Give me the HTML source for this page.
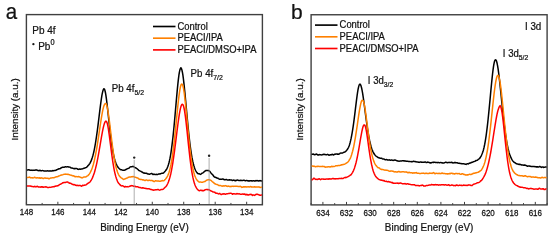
<!DOCTYPE html>
<html><head><meta charset="utf-8"><style>
html,body{margin:0;padding:0;background:#fff;width:550px;height:237px;overflow:hidden}
svg{display:block;will-change:transform}
text{font-family:"Liberation Sans", sans-serif;fill:#111;stroke:#111;stroke-width:0.22px}
</style></head><body>
<svg width="550" height="237" viewBox="0 0 550 237">
<rect x="26.4" y="14.6" width="235.99999999999997" height="190.15" fill="none" stroke="#404040" stroke-width="1.4"/>
<line x1="26.40" y1="204.75" x2="26.40" y2="201.75" stroke="#404040" stroke-width="1"/>
<text transform="translate(26.40,215.35) scale(1,1.2)" text-anchor="middle" font-size="8.0">148</text>
<line x1="57.87" y1="204.75" x2="57.87" y2="201.75" stroke="#404040" stroke-width="1"/>
<text transform="translate(57.87,215.35) scale(1,1.2)" text-anchor="middle" font-size="8.0">146</text>
<line x1="89.33" y1="204.75" x2="89.33" y2="201.75" stroke="#404040" stroke-width="1"/>
<text transform="translate(89.33,215.35) scale(1,1.2)" text-anchor="middle" font-size="8.0">144</text>
<line x1="120.80" y1="204.75" x2="120.80" y2="201.75" stroke="#404040" stroke-width="1"/>
<text transform="translate(120.80,215.35) scale(1,1.2)" text-anchor="middle" font-size="8.0">142</text>
<line x1="152.27" y1="204.75" x2="152.27" y2="201.75" stroke="#404040" stroke-width="1"/>
<text transform="translate(152.27,215.35) scale(1,1.2)" text-anchor="middle" font-size="8.0">140</text>
<line x1="183.73" y1="204.75" x2="183.73" y2="201.75" stroke="#404040" stroke-width="1"/>
<text transform="translate(183.73,215.35) scale(1,1.2)" text-anchor="middle" font-size="8.0">138</text>
<line x1="215.20" y1="204.75" x2="215.20" y2="201.75" stroke="#404040" stroke-width="1"/>
<text transform="translate(215.20,215.35) scale(1,1.2)" text-anchor="middle" font-size="8.0">136</text>
<line x1="246.67" y1="204.75" x2="246.67" y2="201.75" stroke="#404040" stroke-width="1"/>
<text transform="translate(246.67,215.35) scale(1,1.2)" text-anchor="middle" font-size="8.0">134</text>
<line x1="42.13" y1="204.75" x2="42.13" y2="202.95" stroke="#404040" stroke-width="1"/>
<line x1="73.60" y1="204.75" x2="73.60" y2="202.95" stroke="#404040" stroke-width="1"/>
<line x1="105.07" y1="204.75" x2="105.07" y2="202.95" stroke="#404040" stroke-width="1"/>
<line x1="136.53" y1="204.75" x2="136.53" y2="202.95" stroke="#404040" stroke-width="1"/>
<line x1="168.00" y1="204.75" x2="168.00" y2="202.95" stroke="#404040" stroke-width="1"/>
<line x1="199.47" y1="204.75" x2="199.47" y2="202.95" stroke="#404040" stroke-width="1"/>
<line x1="230.93" y1="204.75" x2="230.93" y2="202.95" stroke="#404040" stroke-width="1"/>
<line x1="262.40" y1="204.75" x2="262.40" y2="202.95" stroke="#404040" stroke-width="1"/>
<rect x="311.1" y="14.75" width="236.0" height="190.15" fill="none" stroke="#404040" stroke-width="1.4"/>
<line x1="322.90" y1="204.9" x2="322.90" y2="201.9" stroke="#404040" stroke-width="1"/>
<text transform="translate(322.90,215.5) scale(1,1.2)" text-anchor="middle" font-size="8.0">634</text>
<line x1="346.50" y1="204.9" x2="346.50" y2="201.9" stroke="#404040" stroke-width="1"/>
<text transform="translate(346.50,215.5) scale(1,1.2)" text-anchor="middle" font-size="8.0">632</text>
<line x1="370.10" y1="204.9" x2="370.10" y2="201.9" stroke="#404040" stroke-width="1"/>
<text transform="translate(370.10,215.5) scale(1,1.2)" text-anchor="middle" font-size="8.0">630</text>
<line x1="393.70" y1="204.9" x2="393.70" y2="201.9" stroke="#404040" stroke-width="1"/>
<text transform="translate(393.70,215.5) scale(1,1.2)" text-anchor="middle" font-size="8.0">628</text>
<line x1="417.30" y1="204.9" x2="417.30" y2="201.9" stroke="#404040" stroke-width="1"/>
<text transform="translate(417.30,215.5) scale(1,1.2)" text-anchor="middle" font-size="8.0">626</text>
<line x1="440.90" y1="204.9" x2="440.90" y2="201.9" stroke="#404040" stroke-width="1"/>
<text transform="translate(440.90,215.5) scale(1,1.2)" text-anchor="middle" font-size="8.0">624</text>
<line x1="464.50" y1="204.9" x2="464.50" y2="201.9" stroke="#404040" stroke-width="1"/>
<text transform="translate(464.50,215.5) scale(1,1.2)" text-anchor="middle" font-size="8.0">622</text>
<line x1="488.10" y1="204.9" x2="488.10" y2="201.9" stroke="#404040" stroke-width="1"/>
<text transform="translate(488.10,215.5) scale(1,1.2)" text-anchor="middle" font-size="8.0">620</text>
<line x1="511.70" y1="204.9" x2="511.70" y2="201.9" stroke="#404040" stroke-width="1"/>
<text transform="translate(511.70,215.5) scale(1,1.2)" text-anchor="middle" font-size="8.0">618</text>
<line x1="535.30" y1="204.9" x2="535.30" y2="201.9" stroke="#404040" stroke-width="1"/>
<text transform="translate(535.30,215.5) scale(1,1.2)" text-anchor="middle" font-size="8.0">616</text>
<line x1="311.10" y1="204.9" x2="311.10" y2="203.1" stroke="#404040" stroke-width="1"/>
<line x1="334.70" y1="204.9" x2="334.70" y2="203.1" stroke="#404040" stroke-width="1"/>
<line x1="358.30" y1="204.9" x2="358.30" y2="203.1" stroke="#404040" stroke-width="1"/>
<line x1="381.90" y1="204.9" x2="381.90" y2="203.1" stroke="#404040" stroke-width="1"/>
<line x1="405.50" y1="204.9" x2="405.50" y2="203.1" stroke="#404040" stroke-width="1"/>
<line x1="429.10" y1="204.9" x2="429.10" y2="203.1" stroke="#404040" stroke-width="1"/>
<line x1="452.70" y1="204.9" x2="452.70" y2="203.1" stroke="#404040" stroke-width="1"/>
<line x1="476.30" y1="204.9" x2="476.30" y2="203.1" stroke="#404040" stroke-width="1"/>
<line x1="499.90" y1="204.9" x2="499.90" y2="203.1" stroke="#404040" stroke-width="1"/>
<line x1="523.50" y1="204.9" x2="523.50" y2="203.1" stroke="#404040" stroke-width="1"/>
<line x1="547.10" y1="204.9" x2="547.10" y2="203.1" stroke="#404040" stroke-width="1"/>
<path d="M26.90,170.09 L27.40,170.07 L27.90,169.95 L28.40,169.86 L28.90,169.77 L29.40,169.93 L29.90,170.21 L30.40,170.30 L30.90,170.22 L31.40,170.12 L31.90,170.26 L32.40,170.39 L32.90,170.22 L33.40,170.20 L33.90,170.31 L34.40,170.29 L34.90,170.27 L35.40,169.96 L35.90,170.01 L36.40,169.87 L36.90,170.14 L37.40,170.18 L37.90,170.51 L38.40,170.61 L38.90,170.79 L39.40,170.43 L39.90,170.36 L40.40,170.40 L40.90,170.80 L41.40,170.68 L41.90,170.63 L42.40,170.49 L42.90,170.61 L43.40,170.85 L43.90,170.88 L44.40,171.01 L44.90,170.99 L45.40,171.03 L45.90,171.03 L46.40,170.92 L46.90,171.01 L47.40,170.85 L47.90,170.84 L48.40,171.02 L48.90,170.96 L49.40,171.06 L49.90,170.86 L50.40,170.96 L50.90,171.08 L51.40,171.12 L51.90,171.00 L52.40,170.68 L52.90,170.59 L53.40,170.65 L53.90,170.64 L54.40,170.46 L54.90,170.45 L55.40,170.42 L55.90,170.21 L56.40,170.00 L56.90,169.63 L57.40,169.55 L57.90,169.21 L58.40,169.01 L58.90,168.77 L59.40,168.79 L59.90,168.76 L60.40,168.43 L60.90,168.04 L61.40,167.78 L61.90,167.50 L62.40,167.35 L62.90,167.08 L63.40,167.30 L63.90,167.30 L64.40,167.16 L64.90,166.87 L65.40,166.68 L65.90,166.89 L66.40,166.88 L66.90,166.87 L67.40,166.75 L67.90,166.85 L68.40,166.95 L68.90,166.87 L69.40,167.01 L69.90,167.12 L70.40,167.53 L70.90,167.76 L71.40,167.96 L71.90,168.06 L72.40,168.10 L72.90,168.37 L73.40,168.44 L73.90,168.69 L74.40,168.53 L74.90,168.69 L75.40,168.50 L75.90,168.48 L76.40,168.46 L76.90,168.62 L77.40,168.96 L77.90,169.35 L78.40,169.39 L78.90,169.28 L79.40,168.98 L79.90,169.16 L80.40,169.19 L80.90,169.09 L81.40,169.05 L81.90,169.06 L82.40,168.86 L82.90,168.66 L83.40,168.47 L83.90,168.32 L84.40,168.18 L84.90,167.89 L85.40,167.87 L85.90,167.60 L86.40,167.38 L86.90,166.89 L87.40,166.46 L87.90,165.85 L88.40,165.29 L88.90,164.73 L89.40,164.03 L89.90,163.34 L90.40,162.32 L90.90,161.40 L91.40,160.13 L91.90,158.86 L92.40,157.29 L92.90,155.53 L93.40,153.60 L93.90,151.47 L94.40,149.12 L94.90,146.46 L95.40,143.57 L95.90,140.47 L96.40,137.20 L96.90,133.67 L97.40,129.98 L97.90,126.08 L98.40,122.08 L98.90,117.98 L99.40,113.90 L99.90,109.82 L100.40,105.89 L100.90,102.09 L101.40,98.59 L101.90,95.47 L102.40,92.85 L102.90,90.85 L103.40,89.47 L103.90,88.75 L104.40,89.03 L104.90,90.31 L105.40,92.46 L105.90,95.32 L106.40,98.80 L106.90,102.75 L107.40,107.11 L107.90,111.66 L108.40,116.31 L108.90,120.94 L109.40,125.52 L109.90,129.97 L110.40,134.22 L110.90,138.26 L111.40,141.98 L111.90,145.45 L112.40,148.60 L112.90,151.49 L113.40,154.04 L113.90,156.33 L114.40,158.42 L114.90,160.24 L115.40,161.88 L115.90,163.20 L116.40,164.39 L116.90,165.37 L117.40,166.29 L117.90,167.04 L118.40,167.71 L118.90,168.20 L119.40,168.77 L119.90,169.23 L120.40,169.59 L120.90,169.68 L121.40,169.64 L121.90,169.83 L122.40,170.12 L122.90,170.35 L123.40,170.28 L123.90,170.18 L124.40,170.19 L124.90,170.09 L125.40,169.76 L125.90,169.62 L126.40,169.15 L126.90,169.02 L127.40,168.64 L127.90,168.56 L128.40,168.37 L128.90,168.19 L129.40,167.74 L129.90,167.14 L130.40,166.85 L130.90,166.69 L131.40,166.77 L131.90,166.70 L132.40,166.59 L132.90,166.37 L133.40,166.44 L133.90,166.82 L134.40,167.23 L134.90,167.48 L135.40,167.70 L135.90,167.92 L136.40,168.27 L136.90,168.64 L137.40,169.02 L137.90,169.46 L138.40,169.91 L138.90,170.45 L139.40,170.67 L139.90,170.93 L140.40,171.10 L140.90,171.37 L141.40,171.70 L141.90,171.94 L142.40,172.28 L142.90,172.47 L143.40,172.96 L143.90,172.92 L144.40,173.13 L144.90,173.02 L145.40,173.32 L145.90,173.17 L146.40,173.25 L146.90,173.46 L147.40,173.75 L147.90,173.93 L148.40,173.90 L148.90,174.15 L149.40,174.23 L149.90,174.06 L150.40,173.87 L150.90,173.65 L151.40,173.53 L151.90,173.57 L152.40,174.05 L152.90,174.54 L153.40,174.46 L153.90,174.12 L154.40,174.27 L154.90,174.45 L155.40,174.57 L155.90,174.38 L156.40,174.33 L156.90,174.40 L157.40,174.44 L157.90,174.41 L158.40,174.10 L158.90,174.03 L159.40,173.84 L159.90,174.03 L160.40,173.71 L160.90,173.66 L161.40,173.40 L161.90,173.24 L162.40,173.25 L162.90,173.18 L163.40,172.98 L163.90,172.56 L164.40,172.08 L164.90,171.45 L165.40,170.88 L165.90,170.21 L166.40,169.59 L166.90,168.60 L167.40,167.50 L167.90,166.20 L168.40,164.78 L168.90,163.04 L169.40,161.01 L169.90,158.69 L170.40,156.02 L170.90,153.02 L171.40,149.62 L171.90,145.96 L172.40,141.92 L172.90,137.54 L173.40,132.77 L173.90,127.70 L174.40,122.36 L174.90,116.81 L175.40,111.13 L175.90,105.37 L176.40,99.66 L176.90,94.06 L177.40,88.69 L177.90,83.66 L178.40,79.12 L178.90,75.24 L179.40,72.10 L179.90,69.82 L180.40,68.39 L180.90,67.80 L181.40,68.47 L181.90,69.96 L182.40,72.23 L182.90,75.22 L183.40,78.86 L183.90,83.09 L184.40,87.75 L184.90,92.78 L185.40,98.04 L185.90,103.49 L186.40,108.96 L186.90,114.44 L187.40,119.82 L187.90,125.05 L188.40,130.05 L188.90,134.80 L189.40,139.30 L189.90,143.49 L190.40,147.37 L190.90,150.97 L191.40,154.22 L191.90,157.13 L192.40,159.67 L192.90,162.01 L193.40,164.02 L193.90,165.81 L194.40,167.40 L194.90,168.75 L195.40,170.01 L195.90,171.01 L196.40,171.91 L196.90,172.58 L197.40,173.18 L197.90,173.60 L198.40,173.83 L198.90,173.70 L199.40,173.81 L199.90,174.12 L200.40,174.40 L200.90,174.14 L201.40,173.69 L201.90,173.30 L202.40,173.10 L202.90,172.78 L203.40,172.43 L203.90,172.01 L204.40,171.58 L204.90,171.16 L205.40,170.80 L205.90,170.53 L206.40,170.39 L206.90,170.51 L207.40,170.60 L207.90,170.60 L208.40,170.44 L208.90,170.75 L209.40,171.02 L209.90,171.54 L210.40,172.13 L210.90,172.91 L211.40,173.60 L211.90,174.03 L212.40,174.54 L212.90,175.06 L213.40,175.75 L213.90,176.44 L214.40,176.95 L214.90,177.21 L215.40,177.23 L215.90,177.47 L216.40,177.77 L216.90,177.97 L217.40,178.16 L217.90,178.20 L218.40,178.61 L218.90,178.85 L219.40,179.24 L219.90,179.15 L220.40,179.19 L220.90,179.12 L221.40,179.22 L221.90,179.19 L222.40,179.11 L222.90,179.04 L223.40,179.25 L223.90,179.45 L224.40,179.73 L224.90,179.81 L225.40,179.64 L225.90,179.55 L226.40,179.47 L226.90,179.80 L227.40,179.89 L227.90,180.05 L228.40,180.05 L228.90,179.96 L229.40,179.71 L229.90,179.82 L230.40,180.09 L230.90,179.97 L231.40,180.07 L231.90,180.12 L232.40,180.60 L232.90,180.38 L233.40,180.27 L233.90,179.94 L234.40,180.38 L234.90,180.42 L235.40,180.84 L235.90,180.40 L236.40,180.47 L236.90,180.03 L237.40,180.09 L237.90,180.24 L238.40,180.32 L238.90,180.55 L239.40,180.49 L239.90,180.54 L240.40,180.34 L240.90,180.25 L241.40,180.42 L241.90,180.43 L242.40,180.41 L242.90,180.39 L243.40,180.34 L243.90,180.30 L244.40,180.36 L244.90,180.65 L245.40,180.64 L245.90,180.66 L246.40,180.46 L246.90,180.55 L247.40,180.69 L247.90,180.72 L248.40,181.10 L248.90,180.87 L249.40,181.01 L249.90,180.76 L250.40,180.77 L250.90,180.80 L251.40,180.82 L251.90,181.02 L252.40,180.93 L252.90,180.80 L253.40,180.70 L253.90,180.72 L254.40,181.03 L254.90,180.92 L255.40,180.92 L255.90,180.55 L256.40,180.79 L256.90,180.65 L257.40,180.66 L257.90,180.57 L258.40,180.91 L258.90,180.97 L259.40,180.84 L259.90,180.59 L260.40,180.67 L260.90,180.91 L261.40,180.92 L261.90,181.10" fill="none" stroke="#000000" stroke-width="1.5" stroke-linejoin="round"/>
<path d="M26.90,177.50 L27.40,177.40 L27.90,177.58 L28.40,177.37 L28.90,177.31 L29.40,176.99 L29.90,177.42 L30.40,177.57 L30.90,177.88 L31.40,177.63 L31.90,177.71 L32.40,177.71 L32.90,178.01 L33.40,177.86 L33.90,177.66 L34.40,177.28 L34.90,177.28 L35.40,177.64 L35.90,177.94 L36.40,178.03 L36.90,177.78 L37.40,177.65 L37.90,178.02 L38.40,177.85 L38.90,178.01 L39.40,177.69 L39.90,178.27 L40.40,178.06 L40.90,178.20 L41.40,177.85 L41.90,177.88 L42.40,178.14 L42.90,178.50 L43.40,178.59 L43.90,178.28 L44.40,177.89 L44.90,177.89 L45.40,178.02 L45.90,178.29 L46.40,178.34 L46.90,178.17 L47.40,178.17 L47.90,178.17 L48.40,178.50 L48.90,178.75 L49.40,178.70 L49.90,178.38 L50.40,178.07 L50.90,177.95 L51.40,177.90 L51.90,177.83 L52.40,177.70 L52.90,177.79 L53.40,177.69 L53.90,177.75 L54.40,177.55 L54.90,177.36 L55.40,177.09 L55.90,176.96 L56.40,176.84 L56.90,176.83 L57.40,176.70 L57.90,176.44 L58.40,176.24 L58.90,175.92 L59.40,175.81 L59.90,175.58 L60.40,175.31 L60.90,175.20 L61.40,175.06 L61.90,175.10 L62.40,174.88 L62.90,174.67 L63.40,174.43 L63.90,174.33 L64.40,174.21 L64.90,174.27 L65.40,174.09 L65.90,174.17 L66.40,174.18 L66.90,174.35 L67.40,174.30 L67.90,174.42 L68.40,174.32 L68.90,174.54 L69.40,174.62 L69.90,174.98 L70.40,175.11 L70.90,175.15 L71.40,175.24 L71.90,175.42 L72.40,175.70 L72.90,175.90 L73.40,175.80 L73.90,175.95 L74.40,176.20 L74.90,176.64 L75.40,176.73 L75.90,176.52 L76.40,176.62 L76.90,176.67 L77.40,176.64 L77.90,176.65 L78.40,176.55 L78.90,176.78 L79.40,176.71 L79.90,177.14 L80.40,177.32 L80.90,177.49 L81.40,177.60 L81.90,177.91 L82.40,177.87 L82.90,177.55 L83.40,177.11 L83.90,176.99 L84.40,176.99 L84.90,177.08 L85.40,177.02 L85.90,176.88 L86.40,176.52 L86.90,176.21 L87.40,175.85 L87.90,175.55 L88.40,175.16 L88.90,174.57 L89.40,173.86 L89.90,173.07 L90.40,172.14 L90.90,171.11 L91.40,170.03 L91.90,168.84 L92.40,167.53 L92.90,165.89 L93.40,164.17 L93.90,162.25 L94.40,160.21 L94.90,157.92 L95.40,155.50 L95.90,152.94 L96.40,150.22 L96.90,147.28 L97.40,144.19 L97.90,141.01 L98.40,137.67 L98.90,134.31 L99.40,130.91 L99.90,127.58 L100.40,124.26 L100.90,121.00 L101.40,117.86 L101.90,114.88 L102.40,112.15 L102.90,109.69 L103.40,107.58 L103.90,105.86 L104.40,104.68 L104.90,103.88 L105.40,103.54 L105.90,103.49 L106.40,104.42 L106.90,105.94 L107.40,108.14 L107.90,110.80 L108.40,113.98 L108.90,117.52 L109.40,121.40 L109.90,125.46 L110.40,129.60 L110.90,133.76 L111.40,137.90 L111.90,141.97 L112.40,145.87 L112.90,149.60 L113.40,153.11 L113.90,156.41 L114.40,159.37 L114.90,162.11 L115.40,164.55 L115.90,166.79 L116.40,168.68 L116.90,170.37 L117.40,171.81 L117.90,173.10 L118.40,174.26 L118.90,175.20 L119.40,175.97 L119.90,176.59 L120.40,177.08 L120.90,177.66 L121.40,177.95 L121.90,178.22 L122.40,178.45 L122.90,178.95 L123.40,179.39 L123.90,179.35 L124.40,179.01 L124.90,178.87 L125.40,178.74 L125.90,178.47 L126.40,178.16 L126.90,178.07 L127.40,177.92 L127.90,177.55 L128.40,177.16 L128.90,177.15 L129.40,177.08 L129.90,177.07 L130.40,176.89 L130.90,176.95 L131.40,176.85 L131.90,176.85 L132.40,176.62 L132.90,176.64 L133.40,176.50 L133.90,176.86 L134.40,177.02 L134.90,177.20 L135.40,177.20 L135.90,177.36 L136.40,177.72 L136.90,177.79 L137.40,177.90 L137.90,177.98 L138.40,178.62 L138.90,179.03 L139.40,179.24 L139.90,179.19 L140.40,179.47 L140.90,179.59 L141.40,179.58 L141.90,179.58 L142.40,179.77 L142.90,179.99 L143.40,179.84 L143.90,180.11 L144.40,180.31 L144.90,180.52 L145.40,180.42 L145.90,179.99 L146.40,180.06 L146.90,180.00 L147.40,180.39 L147.90,180.46 L148.40,180.50 L148.90,180.28 L149.40,180.30 L149.90,180.31 L150.40,180.55 L150.90,180.48 L151.40,180.60 L151.90,180.40 L152.40,180.70 L152.90,180.84 L153.40,181.36 L153.90,181.52 L154.40,181.54 L154.90,181.20 L155.40,180.85 L155.90,180.72 L156.40,180.93 L156.90,181.10 L157.40,181.00 L157.90,181.13 L158.40,180.89 L158.90,181.23 L159.40,181.15 L159.90,181.29 L160.40,181.19 L160.90,181.07 L161.40,180.95 L161.90,180.66 L162.40,180.59 L162.90,180.71 L163.40,180.87 L163.90,180.72 L164.40,180.28 L164.90,179.67 L165.40,179.23 L165.90,178.64 L166.40,178.05 L166.90,177.20 L167.40,176.34 L167.90,175.30 L168.40,174.13 L168.90,172.70 L169.40,171.12 L169.90,169.37 L170.40,167.31 L170.90,164.95 L171.40,162.26 L171.90,159.32 L172.40,156.04 L172.90,152.45 L173.40,148.57 L173.90,144.42 L174.40,139.98 L174.90,135.32 L175.40,130.43 L175.90,125.43 L176.40,120.32 L176.90,115.26 L177.40,110.22 L177.90,105.38 L178.40,100.76 L178.90,96.58 L179.40,92.84 L179.90,89.68 L180.40,87.07 L180.90,85.26 L181.40,84.17 L181.90,84.07 L182.40,84.49 L182.90,85.83 L183.40,87.97 L183.90,90.88 L184.40,94.43 L184.90,98.56 L185.40,103.12 L185.90,108.02 L186.40,113.16 L186.90,118.39 L187.40,123.66 L187.90,128.88 L188.40,134.01 L188.90,138.98 L189.40,143.74 L189.90,148.22 L190.40,152.39 L190.90,156.26 L191.40,159.80 L191.90,163.06 L192.40,165.93 L192.90,168.51 L193.40,170.77 L193.90,172.80 L194.40,174.52 L194.90,176.03 L195.40,177.27 L195.90,178.26 L196.40,179.14 L196.90,179.85 L197.40,180.58 L197.90,181.00 L198.40,181.57 L198.90,181.89 L199.40,182.15 L199.90,181.94 L200.40,181.96 L200.90,182.13 L201.40,182.28 L201.90,182.30 L202.40,182.14 L202.90,182.15 L203.40,181.87 L203.90,181.71 L204.40,181.51 L204.90,181.56 L205.40,181.20 L205.90,180.79 L206.40,180.20 L206.90,180.18 L207.40,179.93 L207.90,179.86 L208.40,179.69 L208.90,179.78 L209.40,179.85 L209.90,179.99 L210.40,180.14 L210.90,180.40 L211.40,180.76 L211.90,181.32 L212.40,181.82 L212.90,182.09 L213.40,182.42 L213.90,182.88 L214.40,183.43 L214.90,183.79 L215.40,183.93 L215.90,184.20 L216.40,184.38 L216.90,184.55 L217.40,184.56 L217.90,184.93 L218.40,185.23 L218.90,185.59 L219.40,185.46 L219.90,185.64 L220.40,185.50 L220.90,185.61 L221.40,185.89 L221.90,186.13 L222.40,186.14 L222.90,185.83 L223.40,185.81 L223.90,186.09 L224.40,186.07 L224.90,185.80 L225.40,185.62 L225.90,185.71 L226.40,186.00 L226.90,186.25 L227.40,186.31 L227.90,186.43 L228.40,186.09 L228.90,186.19 L229.40,186.39 L229.90,186.68 L230.40,186.60 L230.90,186.33 L231.40,186.50 L231.90,186.34 L232.40,186.31 L232.90,186.14 L233.40,186.40 L233.90,186.37 L234.40,186.36 L234.90,186.24 L235.40,186.34 L235.90,186.29 L236.40,186.19 L236.90,186.19 L237.40,186.36 L237.90,186.41 L238.40,186.40 L238.90,186.39 L239.40,186.40 L239.90,186.48 L240.40,186.25 L240.90,186.59 L241.40,186.92 L241.90,187.38 L242.40,187.20 L242.90,186.99 L243.40,186.74 L243.90,186.80 L244.40,186.93 L244.90,186.74 L245.40,186.89 L245.90,186.68 L246.40,187.09 L246.90,186.98 L247.40,186.90 L247.90,186.75 L248.40,186.84 L248.90,186.95 L249.40,187.00 L249.90,186.82 L250.40,186.52 L250.90,186.59 L251.40,186.78 L251.90,187.13 L252.40,187.02 L252.90,187.08 L253.40,187.01 L253.90,186.91 L254.40,186.75 L254.90,187.01 L255.40,186.92 L255.90,187.14 L256.40,186.89 L256.90,186.95 L257.40,186.98 L257.90,187.07 L258.40,187.06 L258.90,186.84 L259.40,187.01 L259.90,187.39 L260.40,187.39 L260.90,187.33 L261.40,187.28 L261.90,187.36" fill="none" stroke="#FF8000" stroke-width="1.5" stroke-linejoin="round"/>
<path d="M26.90,185.98 L27.40,185.99 L27.90,186.02 L28.40,185.91 L28.90,185.94 L29.40,186.04 L29.90,186.05 L30.40,186.00 L30.90,186.17 L31.40,186.31 L31.90,186.52 L32.40,186.55 L32.90,186.63 L33.40,186.85 L33.90,186.59 L34.40,186.66 L34.90,186.33 L35.40,186.74 L35.90,186.90 L36.40,186.72 L36.90,186.37 L37.40,186.28 L37.90,186.70 L38.40,186.98 L38.90,186.93 L39.40,186.94 L39.90,186.98 L40.40,187.03 L40.90,187.15 L41.40,186.79 L41.90,186.93 L42.40,186.68 L42.90,187.17 L43.40,187.08 L43.90,187.13 L44.40,187.07 L44.90,187.00 L45.40,187.01 L45.90,186.74 L46.40,186.88 L46.90,187.10 L47.40,187.49 L47.90,187.47 L48.40,187.54 L48.90,187.38 L49.40,187.37 L49.90,187.27 L50.40,187.38 L50.90,187.30 L51.40,187.14 L51.90,186.91 L52.40,186.90 L52.90,186.73 L53.40,186.79 L53.90,186.62 L54.40,186.66 L54.90,186.30 L55.40,186.24 L55.90,186.07 L56.40,185.94 L56.90,185.94 L57.40,185.73 L57.90,185.76 L58.40,185.42 L58.90,185.09 L59.40,184.64 L59.90,184.36 L60.40,184.20 L60.90,184.02 L61.40,183.72 L61.90,183.31 L62.40,183.08 L62.90,182.68 L63.40,182.75 L63.90,182.54 L64.40,182.60 L64.90,182.42 L65.40,182.48 L65.90,182.34 L66.40,182.10 L66.90,181.96 L67.40,181.96 L67.90,182.17 L68.40,182.61 L68.90,182.86 L69.40,183.19 L69.90,183.01 L70.40,183.34 L70.90,183.41 L71.40,183.74 L71.90,183.95 L72.40,184.36 L72.90,184.57 L73.40,184.70 L73.90,184.56 L74.40,184.76 L74.90,184.86 L75.40,185.21 L75.90,185.26 L76.40,185.61 L76.90,185.36 L77.40,185.41 L77.90,185.37 L78.40,185.64 L78.90,185.62 L79.40,185.49 L79.90,185.36 L80.40,185.50 L80.90,185.90 L81.40,186.24 L81.90,186.03 L82.40,185.52 L82.90,185.26 L83.40,185.46 L83.90,185.37 L84.40,185.22 L84.90,185.08 L85.40,185.10 L85.90,184.95 L86.40,184.52 L86.90,184.04 L87.40,183.74 L87.90,183.33 L88.40,183.16 L88.90,182.75 L89.40,182.47 L89.90,181.99 L90.40,181.47 L90.90,180.64 L91.40,179.78 L91.90,178.87 L92.40,177.87 L92.90,176.65 L93.40,175.35 L93.90,173.93 L94.40,172.49 L94.90,170.73 L95.40,168.92 L95.90,166.89 L96.40,164.83 L96.90,162.58 L97.40,160.17 L97.90,157.61 L98.40,154.95 L98.90,152.11 L99.40,149.24 L99.90,146.27 L100.40,143.35 L100.90,140.38 L101.40,137.45 L101.90,134.58 L102.40,131.88 L102.90,129.37 L103.40,127.07 L103.90,125.11 L104.40,123.53 L104.90,122.27 L105.40,121.38 L105.90,121.12 L106.40,121.38 L106.90,122.26 L107.40,123.87 L107.90,126.23 L108.40,129.17 L108.90,132.53 L109.40,136.22 L109.90,140.06 L110.40,144.00 L110.90,147.89 L111.40,151.75 L111.90,155.45 L112.40,159.00 L112.90,162.33 L113.40,165.43 L113.90,168.26 L114.40,170.80 L114.90,173.08 L115.40,175.11 L115.90,176.89 L116.40,178.48 L116.90,179.81 L117.40,181.07 L117.90,182.05 L118.40,182.93 L118.90,183.55 L119.40,184.11 L119.90,184.69 L120.40,185.10 L120.90,185.61 L121.40,185.82 L121.90,185.90 L122.40,185.87 L122.90,185.85 L123.40,186.21 L123.90,186.50 L124.40,186.92 L124.90,186.75 L125.40,186.48 L125.90,186.60 L126.40,186.76 L126.90,186.78 L127.40,186.61 L127.90,186.79 L128.40,186.87 L128.90,186.67 L129.40,186.33 L129.90,186.17 L130.40,186.02 L130.90,185.78 L131.40,185.67 L131.90,185.62 L132.40,185.79 L132.90,185.84 L133.40,186.34 L133.90,186.31 L134.40,186.38 L134.90,186.20 L135.40,186.48 L135.90,186.76 L136.40,186.86 L136.90,186.86 L137.40,186.69 L137.90,186.78 L138.40,187.07 L138.90,187.40 L139.40,187.51 L139.90,187.50 L140.40,187.60 L140.90,187.88 L141.40,187.94 L141.90,187.98 L142.40,187.76 L142.90,187.75 L143.40,188.07 L143.90,188.09 L144.40,188.27 L144.90,188.16 L145.40,188.47 L145.90,188.48 L146.40,188.52 L146.90,188.65 L147.40,188.82 L147.90,188.66 L148.40,188.72 L148.90,188.70 L149.40,188.95 L149.90,189.07 L150.40,189.34 L150.90,189.60 L151.40,189.58 L151.90,189.68 L152.40,189.79 L152.90,190.07 L153.40,190.19 L153.90,190.07 L154.40,189.94 L154.90,189.91 L155.40,189.78 L155.90,189.87 L156.40,189.70 L156.90,189.86 L157.40,189.58 L157.90,189.53 L158.40,189.58 L158.90,189.94 L159.40,190.17 L159.90,190.11 L160.40,189.90 L160.90,189.58 L161.40,189.54 L161.90,189.40 L162.40,189.39 L162.90,189.32 L163.40,189.08 L163.90,188.57 L164.40,187.99 L164.90,187.47 L165.40,187.01 L165.90,186.59 L166.40,186.01 L166.90,185.19 L167.40,184.23 L167.90,183.22 L168.40,182.05 L168.90,180.62 L169.40,179.00 L169.90,177.26 L170.40,175.34 L170.90,173.21 L171.40,170.83 L171.90,168.22 L172.40,165.37 L172.90,162.29 L173.40,158.95 L173.90,155.45 L174.40,151.80 L174.90,148.01 L175.40,144.11 L175.90,140.10 L176.40,136.05 L176.90,132.02 L177.40,128.06 L177.90,124.23 L178.40,120.54 L178.90,117.10 L179.40,113.95 L179.90,111.08 L180.40,108.64 L180.90,106.68 L181.40,105.29 L181.90,104.43 L182.40,104.25 L182.90,104.59 L183.40,105.62 L183.90,107.48 L184.40,109.99 L184.90,113.10 L185.40,116.70 L185.90,120.77 L186.40,125.15 L186.90,129.77 L187.40,134.51 L187.90,139.30 L188.40,144.06 L188.90,148.75 L189.40,153.26 L189.90,157.56 L190.40,161.59 L190.90,165.42 L191.40,168.87 L191.90,172.06 L192.40,174.84 L192.90,177.39 L193.40,179.61 L193.90,181.60 L194.40,183.35 L194.90,184.80 L195.40,185.98 L195.90,186.94 L196.40,187.81 L196.90,188.60 L197.40,189.33 L197.90,189.81 L198.40,190.24 L198.90,190.56 L199.40,190.76 L199.90,190.61 L200.40,190.32 L200.90,190.08 L201.40,190.53 L201.90,190.53 L202.40,190.77 L202.90,190.53 L203.40,190.68 L203.90,190.50 L204.40,190.27 L204.90,189.91 L205.40,189.68 L205.90,189.61 L206.40,189.50 L206.90,189.46 L207.40,189.68 L207.90,189.59 L208.40,189.74 L208.90,189.61 L209.40,190.02 L209.90,190.30 L210.40,190.63 L210.90,190.95 L211.40,190.98 L211.90,191.37 L212.40,191.49 L212.90,191.96 L213.40,192.11 L213.90,192.11 L214.40,192.15 L214.90,192.33 L215.40,192.95 L215.90,193.22 L216.40,193.35 L216.90,193.10 L217.40,193.35 L217.90,193.64 L218.40,193.91 L218.90,193.78 L219.40,193.40 L219.90,193.57 L220.40,194.02 L220.90,194.40 L221.40,194.50 L221.90,194.24 L222.40,194.02 L222.90,194.06 L223.40,193.81 L223.90,193.94 L224.40,193.78 L224.90,194.10 L225.40,194.19 L225.90,194.20 L226.40,193.95 L226.90,193.69 L227.40,193.63 L227.90,193.63 L228.40,193.62 L228.90,193.41 L229.40,193.43 L229.90,193.34 L230.40,193.32 L230.90,193.14 L231.40,193.44 L231.90,193.69 L232.40,194.23 L232.90,193.98 L233.40,193.82 L233.90,193.66 L234.40,193.86 L234.90,193.92 L235.40,194.04 L235.90,194.04 L236.40,193.94 L236.90,193.52 L237.40,193.65 L237.90,193.88 L238.40,193.91 L238.90,193.75 L239.40,193.82 L239.90,194.13 L240.40,194.21 L240.90,194.26 L241.40,194.30 L241.90,194.17 L242.40,194.07 L242.90,194.08 L243.40,194.28 L243.90,194.05 L244.40,193.97 L244.90,194.19 L245.40,194.74 L245.90,194.49 L246.40,194.78 L246.90,194.40 L247.40,194.88 L247.90,194.70 L248.40,195.02 L248.90,194.92 L249.40,194.58 L249.90,194.54 L250.40,194.43 L250.90,194.24 L251.40,194.58 L251.90,194.80 L252.40,195.45 L252.90,194.91 L253.40,195.03 L253.90,195.01 L254.40,195.39 L254.90,195.18 L255.40,194.79 L255.90,194.55 L256.40,194.24 L256.90,194.18 L257.40,194.24 L257.90,194.43 L258.40,194.67 L258.90,194.65 L259.40,195.10 L259.90,195.32 L260.40,195.35 L260.90,195.26 L261.40,194.97 L261.90,195.00" fill="none" stroke="#FF0000" stroke-width="1.5" stroke-linejoin="round"/>
<path d="M311.60,154.53 L312.10,154.35 L312.60,154.37 L313.10,154.05 L313.60,154.26 L314.10,154.55 L314.60,154.64 L315.10,154.67 L315.60,154.31 L316.10,154.26 L316.60,154.06 L317.10,154.41 L317.60,154.94 L318.10,155.20 L318.60,154.90 L319.10,154.68 L319.60,154.58 L320.10,154.81 L320.60,154.77 L321.10,154.88 L321.60,154.88 L322.10,154.77 L322.60,154.69 L323.10,154.37 L323.60,154.40 L324.10,154.27 L324.60,154.50 L325.10,154.43 L325.60,154.66 L326.10,154.75 L326.60,154.68 L327.10,154.54 L327.60,154.33 L328.10,154.64 L328.60,155.00 L329.10,155.25 L329.60,155.07 L330.10,155.01 L330.60,154.65 L331.10,154.89 L331.60,154.56 L332.10,154.35 L332.60,154.47 L333.10,154.74 L333.60,154.93 L334.10,154.54 L334.60,154.24 L335.10,154.33 L335.60,154.05 L336.10,153.92 L336.60,153.90 L337.10,154.05 L337.60,154.22 L338.10,154.09 L338.60,154.28 L339.10,153.95 L339.60,153.88 L340.10,153.25 L340.60,153.09 L341.10,153.12 L341.60,153.12 L342.10,153.20 L342.60,152.90 L343.10,152.72 L343.60,152.44 L344.10,152.18 L344.60,151.99 L345.10,151.78 L345.60,151.51 L346.10,151.05 L346.60,150.40 L347.10,149.74 L347.60,149.01 L348.10,148.20 L348.60,147.22 L349.10,145.98 L349.60,144.45 L350.10,142.64 L350.60,140.64 L351.10,138.41 L351.60,135.90 L352.10,133.16 L352.60,130.13 L353.10,126.86 L353.60,123.31 L354.10,119.55 L354.60,115.58 L355.10,111.55 L355.60,107.44 L356.10,103.40 L356.60,99.40 L357.10,95.66 L357.60,92.20 L358.10,89.23 L358.60,86.88 L359.10,85.15 L359.60,84.25 L360.10,84.09 L360.60,84.85 L361.10,86.12 L361.60,88.00 L362.10,90.38 L362.60,93.24 L363.10,96.42 L363.60,99.92 L364.10,103.58 L364.60,107.40 L365.10,111.25 L365.60,115.10 L366.10,118.83 L366.60,122.51 L367.10,126.02 L367.60,129.39 L368.10,132.46 L368.60,135.35 L369.10,138.03 L369.60,140.52 L370.10,142.72 L370.60,144.75 L371.10,146.65 L371.60,148.26 L372.10,149.71 L372.60,150.85 L373.10,152.04 L373.60,153.02 L374.10,153.77 L374.60,154.51 L375.10,155.14 L375.60,155.76 L376.10,156.18 L376.60,156.47 L377.10,156.79 L377.60,157.29 L378.10,157.46 L378.60,157.83 L379.10,157.74 L379.60,158.10 L380.10,158.16 L380.60,158.15 L381.10,158.21 L381.60,158.21 L382.10,158.59 L382.60,158.90 L383.10,159.00 L383.60,159.02 L384.10,159.09 L384.60,159.34 L385.10,159.77 L385.60,159.71 L386.10,159.65 L386.60,159.50 L387.10,159.69 L387.60,160.01 L388.10,160.08 L388.60,159.98 L389.10,159.89 L389.60,159.86 L390.10,160.18 L390.60,160.24 L391.10,160.22 L391.60,159.92 L392.10,160.07 L392.60,160.37 L393.10,160.46 L393.60,160.31 L394.10,160.26 L394.60,160.08 L395.10,160.03 L395.60,160.18 L396.10,160.39 L396.60,160.67 L397.10,160.77 L397.60,160.97 L398.10,160.96 L398.60,161.13 L399.10,161.17 L399.60,161.15 L400.10,160.99 L400.60,160.99 L401.10,160.96 L401.60,160.90 L402.10,160.86 L402.60,160.74 L403.10,160.75 L403.60,160.77 L404.10,161.02 L404.60,160.85 L405.10,160.88 L405.60,160.97 L406.10,161.26 L406.60,161.18 L407.10,161.31 L407.60,161.16 L408.10,161.32 L408.60,161.45 L409.10,161.56 L409.60,161.55 L410.10,161.55 L410.60,161.63 L411.10,161.69 L411.60,161.60 L412.10,161.84 L412.60,161.60 L413.10,161.48 L413.60,161.21 L414.10,161.40 L414.60,161.42 L415.10,161.48 L415.60,161.70 L416.10,161.72 L416.60,161.89 L417.10,161.93 L417.60,161.97 L418.10,162.00 L418.60,162.20 L419.10,162.38 L419.60,162.29 L420.10,162.05 L420.60,161.89 L421.10,162.04 L421.60,162.20 L422.10,162.23 L422.60,162.18 L423.10,162.23 L423.60,162.29 L424.10,162.37 L424.60,162.06 L425.10,162.03 L425.60,161.94 L426.10,162.42 L426.60,162.50 L427.10,162.51 L427.60,162.12 L428.10,162.16 L428.60,162.35 L429.10,162.47 L429.60,162.81 L430.10,162.76 L430.60,162.96 L431.10,162.71 L431.60,162.79 L432.10,162.39 L432.60,162.35 L433.10,162.28 L433.60,162.47 L434.10,162.20 L434.60,162.35 L435.10,162.35 L435.60,162.62 L436.10,162.47 L436.60,162.51 L437.10,162.65 L437.60,162.52 L438.10,162.43 L438.60,162.42 L439.10,162.64 L439.60,162.74 L440.10,162.62 L440.60,162.49 L441.10,162.55 L441.60,162.82 L442.10,162.79 L442.60,163.03 L443.10,162.99 L443.60,163.09 L444.10,162.98 L444.60,162.65 L445.10,162.46 L445.60,162.15 L446.10,162.31 L446.60,162.52 L447.10,162.64 L447.60,162.71 L448.10,162.44 L448.60,162.59 L449.10,162.37 L449.60,162.59 L450.10,162.45 L450.60,162.50 L451.10,162.40 L451.60,162.32 L452.10,162.49 L452.60,162.79 L453.10,163.03 L453.60,162.89 L454.10,162.69 L454.60,162.48 L455.10,162.70 L455.60,162.52 L456.10,162.85 L456.60,162.72 L457.10,162.92 L457.60,162.81 L458.10,163.04 L458.60,163.23 L459.10,163.36 L459.60,163.28 L460.10,163.45 L460.60,163.54 L461.10,163.59 L461.60,163.70 L462.10,163.67 L462.60,163.81 L463.10,163.65 L463.60,163.71 L464.10,163.91 L464.60,163.95 L465.10,164.15 L465.60,164.15 L466.10,164.40 L466.60,163.97 L467.10,163.87 L467.60,163.84 L468.10,163.90 L468.60,163.77 L469.10,163.26 L469.60,163.23 L470.10,162.95 L470.60,163.08 L471.10,162.60 L471.60,162.52 L472.10,162.19 L472.60,162.26 L473.10,161.89 L473.60,161.64 L474.10,161.60 L474.60,161.41 L475.10,161.20 L475.60,160.72 L476.10,160.49 L476.60,160.44 L477.10,160.38 L477.60,160.11 L478.10,159.51 L478.60,159.09 L479.10,158.80 L479.60,158.46 L480.10,157.84 L480.60,156.99 L481.10,156.09 L481.60,154.98 L482.10,153.80 L482.60,152.50 L483.10,150.96 L483.60,149.26 L484.10,147.14 L484.60,144.76 L485.10,142.05 L485.60,139.10 L486.10,135.80 L486.60,132.11 L487.10,128.11 L487.60,123.84 L488.10,119.28 L488.60,114.42 L489.10,109.36 L489.60,104.15 L490.10,98.82 L490.60,93.44 L491.10,88.12 L491.60,82.97 L492.10,78.07 L492.60,73.54 L493.10,69.45 L493.60,65.92 L494.10,63.08 L494.60,61.04 L495.10,59.96 L495.60,59.85 L496.10,60.15 L496.60,61.34 L497.10,63.28 L497.60,65.84 L498.10,68.96 L498.60,72.60 L499.10,76.65 L499.60,81.04 L500.10,85.62 L500.60,90.40 L501.10,95.26 L501.60,100.18 L502.10,105.08 L502.60,109.86 L503.10,114.53 L503.60,119.00 L504.10,123.32 L504.60,127.38 L505.10,131.23 L505.60,134.79 L506.10,138.11 L506.60,141.14 L507.10,143.95 L507.60,146.43 L508.10,148.77 L508.60,150.79 L509.10,152.64 L509.60,154.17 L510.10,155.66 L510.60,156.83 L511.10,157.95 L511.60,158.94 L512.10,159.84 L512.60,160.60 L513.10,161.26 L513.60,161.82 L514.10,162.23 L514.60,162.52 L515.10,162.74 L515.60,163.22 L516.10,163.54 L516.60,163.85 L517.10,163.88 L517.60,163.95 L518.10,164.18 L518.60,164.28 L519.10,164.46 L519.60,164.33 L520.10,164.50 L520.60,164.47 L521.10,164.78 L521.60,164.96 L522.10,164.93 L522.60,165.12 L523.10,165.12 L523.60,165.26 L524.10,165.07 L524.60,165.00 L525.10,165.19 L525.60,165.31 L526.10,165.53 L526.60,165.69 L527.10,166.01 L527.60,166.27 L528.10,166.14 L528.60,165.91 L529.10,165.89 L529.60,166.02 L530.10,166.37 L530.60,166.28 L531.10,166.45 L531.60,166.46 L532.10,166.60 L532.60,166.55 L533.10,166.53 L533.60,166.51 L534.10,166.51 L534.60,166.64 L535.10,166.57 L535.60,166.82 L536.10,166.71 L536.60,166.95 L537.10,166.74 L537.60,166.75 L538.10,166.93 L538.60,166.93 L539.10,166.82 L539.60,166.46 L540.10,166.49 L540.60,167.00 L541.10,167.16 L541.60,167.37 L542.10,166.94 L542.60,166.99 L543.10,166.98 L543.60,167.41 L544.10,167.28 L544.60,167.30 L545.10,167.11 L545.60,167.09 L546.10,167.03 L546.60,167.01" fill="none" stroke="#000000" stroke-width="1.5" stroke-linejoin="round"/>
<path d="M311.60,165.87 L312.10,165.96 L312.60,166.09 L313.10,166.37 L313.60,166.10 L314.10,166.24 L314.60,166.35 L315.10,166.71 L315.60,166.71 L316.10,166.60 L316.60,166.58 L317.10,166.35 L317.60,166.43 L318.10,166.31 L318.60,166.36 L319.10,166.55 L319.60,166.59 L320.10,166.59 L320.60,166.42 L321.10,166.47 L321.60,166.39 L322.10,166.38 L322.60,166.34 L323.10,166.40 L323.60,166.47 L324.10,166.41 L324.60,166.79 L325.10,167.02 L325.60,167.18 L326.10,166.88 L326.60,167.00 L327.10,166.98 L327.60,166.97 L328.10,166.68 L328.60,166.67 L329.10,166.88 L329.60,166.81 L330.10,167.06 L330.60,166.70 L331.10,166.78 L331.60,166.31 L332.10,166.67 L332.60,166.49 L333.10,166.59 L333.60,166.42 L334.10,166.59 L334.60,166.40 L335.10,166.17 L335.60,165.75 L336.10,165.85 L336.60,165.81 L337.10,165.87 L337.60,165.68 L338.10,165.55 L338.60,165.41 L339.10,165.46 L339.60,165.60 L340.10,165.35 L340.60,165.17 L341.10,164.83 L341.60,165.01 L342.10,164.79 L342.60,164.70 L343.10,164.39 L343.60,164.43 L344.10,164.29 L344.60,164.20 L345.10,163.95 L345.60,163.67 L346.10,163.25 L346.60,162.95 L347.10,162.61 L347.60,162.27 L348.10,161.76 L348.60,161.20 L349.10,160.41 L349.60,159.48 L350.10,158.54 L350.60,157.54 L351.10,156.27 L351.60,154.72 L352.10,153.03 L352.60,151.23 L353.10,149.20 L353.60,147.00 L354.10,144.55 L354.60,141.92 L355.10,139.11 L355.60,136.11 L356.10,132.96 L356.60,129.65 L357.10,126.27 L357.60,122.81 L358.10,119.34 L358.60,115.91 L359.10,112.67 L359.60,109.61 L360.10,106.82 L360.60,104.35 L361.10,102.38 L361.60,101.01 L362.10,100.31 L362.60,100.27 L363.10,100.57 L363.60,101.73 L364.10,103.60 L364.60,106.15 L365.10,109.18 L365.60,112.65 L366.10,116.30 L366.60,120.10 L367.10,123.95 L367.60,127.86 L368.10,131.71 L368.60,135.43 L369.10,138.98 L369.60,142.36 L370.10,145.51 L370.60,148.39 L371.10,151.05 L371.60,153.43 L372.10,155.59 L372.60,157.44 L373.10,159.11 L373.60,160.63 L374.10,161.90 L374.60,163.05 L375.10,164.01 L375.60,164.90 L376.10,165.63 L376.60,166.11 L377.10,166.75 L377.60,167.27 L378.10,167.78 L378.60,167.84 L379.10,167.92 L379.60,168.24 L380.10,168.83 L380.60,169.18 L381.10,169.40 L381.60,169.31 L382.10,169.42 L382.60,169.42 L383.10,169.68 L383.60,169.65 L384.10,169.88 L384.60,170.11 L385.10,170.28 L385.60,170.10 L386.10,170.09 L386.60,170.25 L387.10,170.21 L387.60,170.36 L388.10,170.54 L388.60,170.87 L389.10,171.11 L389.60,171.18 L390.10,171.21 L390.60,171.00 L391.10,170.90 L391.60,170.95 L392.10,171.04 L392.60,171.16 L393.10,171.25 L393.60,171.47 L394.10,171.71 L394.60,171.93 L395.10,171.81 L395.60,171.80 L396.10,171.93 L396.60,171.90 L397.10,172.13 L397.60,171.83 L398.10,171.83 L398.60,171.41 L399.10,171.53 L399.60,171.67 L400.10,172.11 L400.60,172.09 L401.10,172.05 L401.60,171.83 L402.10,171.85 L402.60,171.72 L403.10,171.81 L403.60,171.70 L404.10,171.91 L404.60,171.94 L405.10,172.12 L405.60,171.99 L406.10,171.83 L406.60,172.21 L407.10,172.20 L407.60,172.65 L408.10,172.50 L408.60,172.68 L409.10,172.33 L409.60,172.43 L410.10,172.76 L410.60,172.83 L411.10,172.69 L411.60,172.63 L412.10,172.85 L412.60,173.21 L413.10,173.02 L413.60,173.09 L414.10,172.67 L414.60,173.08 L415.10,172.93 L415.60,172.83 L416.10,172.54 L416.60,172.65 L417.10,173.26 L417.60,173.26 L418.10,173.30 L418.60,173.13 L419.10,173.43 L419.60,173.45 L420.10,173.53 L420.60,173.40 L421.10,173.38 L421.60,173.26 L422.10,173.20 L422.60,173.13 L423.10,173.31 L423.60,173.11 L424.10,173.43 L424.60,173.40 L425.10,173.60 L425.60,173.32 L426.10,173.15 L426.60,173.23 L427.10,173.46 L427.60,173.53 L428.10,173.60 L428.60,173.40 L429.10,173.38 L429.60,173.00 L430.10,173.18 L430.60,173.15 L431.10,173.31 L431.60,173.36 L432.10,173.43 L432.60,173.07 L433.10,172.90 L433.60,172.58 L434.10,173.16 L434.60,173.53 L435.10,173.68 L435.60,173.54 L436.10,173.14 L436.60,173.28 L437.10,173.37 L437.60,173.61 L438.10,173.42 L438.60,173.57 L439.10,173.26 L439.60,173.46 L440.10,173.41 L440.60,173.66 L441.10,173.49 L441.60,173.23 L442.10,173.07 L442.60,173.22 L443.10,173.50 L443.60,173.39 L444.10,173.48 L444.60,173.41 L445.10,173.70 L445.60,173.71 L446.10,173.86 L446.60,173.86 L447.10,173.93 L447.60,173.81 L448.10,174.02 L448.60,173.64 L449.10,173.76 L449.60,173.49 L450.10,173.74 L450.60,173.44 L451.10,173.22 L451.60,173.23 L452.10,173.29 L452.60,173.64 L453.10,173.50 L453.60,173.82 L454.10,173.80 L454.60,173.99 L455.10,173.69 L455.60,173.54 L456.10,173.42 L456.60,173.46 L457.10,173.59 L457.60,173.74 L458.10,173.63 L458.60,173.61 L459.10,173.53 L459.60,173.79 L460.10,174.12 L460.60,174.37 L461.10,174.35 L461.60,173.95 L462.10,173.77 L462.60,173.69 L463.10,174.08 L463.60,174.27 L464.10,174.59 L464.60,174.53 L465.10,174.73 L465.60,174.99 L466.10,175.05 L466.60,175.04 L467.10,174.74 L467.60,174.96 L468.10,174.83 L468.60,174.73 L469.10,174.36 L469.60,174.21 L470.10,174.27 L470.60,174.58 L471.10,174.47 L471.60,174.37 L472.10,173.94 L472.60,173.77 L473.10,173.48 L473.60,173.28 L474.10,173.19 L474.60,173.31 L475.10,172.98 L475.60,172.98 L476.10,172.65 L476.60,172.67 L477.10,172.49 L477.60,172.38 L478.10,172.26 L478.60,172.06 L479.10,171.77 L479.60,171.26 L480.10,171.00 L480.60,170.69 L481.10,170.39 L481.60,169.73 L482.10,168.77 L482.60,167.88 L483.10,166.82 L483.60,165.74 L484.10,164.48 L484.60,162.98 L485.10,161.29 L485.60,159.26 L486.10,157.10 L486.60,154.68 L487.10,152.00 L487.60,149.02 L488.10,145.81 L488.60,142.28 L489.10,138.50 L489.60,134.44 L490.10,130.24 L490.60,125.86 L491.10,121.30 L491.60,116.58 L492.10,111.80 L492.60,107.06 L493.10,102.38 L493.60,97.86 L494.10,93.53 L494.60,89.51 L495.10,85.82 L495.60,82.58 L496.10,79.91 L496.60,77.75 L497.10,76.31 L497.60,75.42 L498.10,75.36 L498.60,75.99 L499.10,77.45 L499.60,79.61 L500.10,82.39 L500.60,85.78 L501.10,89.72 L501.60,94.08 L502.10,98.71 L502.60,103.55 L503.10,108.50 L503.60,113.53 L504.10,118.56 L504.60,123.51 L505.10,128.32 L505.60,132.95 L506.10,137.39 L506.60,141.55 L507.10,145.45 L507.60,149.05 L508.10,152.40 L508.60,155.40 L509.10,158.11 L509.60,160.52 L510.10,162.67 L510.60,164.57 L511.10,166.21 L511.60,167.70 L512.10,169.02 L512.60,170.19 L513.10,171.00 L513.60,171.72 L514.10,172.28 L514.60,172.97 L515.10,173.44 L515.60,173.84 L516.10,174.23 L516.60,174.58 L517.10,174.77 L517.60,175.03 L518.10,175.31 L518.60,175.54 L519.10,175.61 L519.60,175.52 L520.10,175.84 L520.60,175.80 L521.10,175.87 L521.60,175.75 L522.10,175.74 L522.60,175.94 L523.10,176.07 L523.60,176.23 L524.10,176.19 L524.60,175.72 L525.10,175.77 L525.60,175.64 L526.10,176.22 L526.60,176.41 L527.10,176.75 L527.60,176.71 L528.10,176.57 L528.60,176.55 L529.10,176.57 L529.60,176.56 L530.10,176.49 L530.60,176.77 L531.10,176.88 L531.60,177.18 L532.10,177.02 L532.60,177.07 L533.10,176.95 L533.60,177.09 L534.10,177.23 L534.60,177.32 L535.10,177.20 L535.60,177.02 L536.10,177.26 L536.60,177.35 L537.10,177.46 L537.60,177.47 L538.10,177.71 L538.60,177.86 L539.10,177.65 L539.60,177.86 L540.10,177.88 L540.60,178.05 L541.10,177.74 L541.60,177.52 L542.10,177.28 L542.60,177.39 L543.10,177.68 L543.60,177.86 L544.10,177.66 L544.60,177.42 L545.10,177.44 L545.60,177.42 L546.10,177.78 L546.60,177.85" fill="none" stroke="#FF8000" stroke-width="1.5" stroke-linejoin="round"/>
<path d="M311.60,179.60 L312.10,179.73 L312.60,179.49 L313.10,178.95 L313.60,178.32 L314.10,178.33 L314.60,178.44 L315.10,179.10 L315.60,179.28 L316.10,179.40 L316.60,179.30 L317.10,179.31 L317.60,179.45 L318.10,179.26 L318.60,179.10 L319.10,178.68 L319.60,179.08 L320.10,179.34 L320.60,179.67 L321.10,179.24 L321.60,179.08 L322.10,178.93 L322.60,179.12 L323.10,179.06 L323.60,179.17 L324.10,179.10 L324.60,179.25 L325.10,179.21 L325.60,179.22 L326.10,179.07 L326.60,178.96 L327.10,179.12 L327.60,179.09 L328.10,179.20 L328.60,179.01 L329.10,178.82 L329.60,178.91 L330.10,178.80 L330.60,179.11 L331.10,179.02 L331.60,178.93 L332.10,178.67 L332.60,178.52 L333.10,178.63 L333.60,178.58 L334.10,178.74 L334.60,178.81 L335.10,179.01 L335.60,178.82 L336.10,178.87 L336.60,178.68 L337.10,178.71 L337.60,178.72 L338.10,178.79 L338.60,178.70 L339.10,178.43 L339.60,178.40 L340.10,178.46 L340.60,178.53 L341.10,178.34 L341.60,178.31 L342.10,178.60 L342.60,178.59 L343.10,178.48 L343.60,178.12 L344.10,177.74 L344.60,177.61 L345.10,177.37 L345.60,177.71 L346.10,177.52 L346.60,177.35 L347.10,176.99 L347.60,176.84 L348.10,176.63 L348.60,176.38 L349.10,175.94 L349.60,175.63 L350.10,175.30 L350.60,175.09 L351.10,174.60 L351.60,173.93 L352.10,173.15 L352.60,172.33 L353.10,171.45 L353.60,170.35 L354.10,169.07 L354.60,167.63 L355.10,166.05 L355.60,164.35 L356.10,162.45 L356.60,160.34 L357.10,158.01 L357.60,155.56 L358.10,152.93 L358.60,150.24 L359.10,147.38 L359.60,144.44 L360.10,141.46 L360.60,138.49 L361.10,135.63 L361.60,132.92 L362.10,130.46 L362.60,128.29 L363.10,126.58 L363.60,125.35 L364.10,124.94 L364.60,124.96 L365.10,125.73 L365.60,127.35 L366.10,129.63 L366.60,132.49 L367.10,135.73 L367.60,139.18 L368.10,142.75 L368.60,146.34 L369.10,149.86 L369.60,153.24 L370.10,156.36 L370.60,159.30 L371.10,161.98 L371.60,164.49 L372.10,166.70 L372.60,168.71 L373.10,170.44 L373.60,171.97 L374.10,173.24 L374.60,174.40 L375.10,175.33 L375.60,176.21 L376.10,176.88 L376.60,177.52 L377.10,177.93 L377.60,178.36 L378.10,178.80 L378.60,179.20 L379.10,179.46 L379.60,179.69 L380.10,179.83 L380.60,180.12 L381.10,180.20 L381.60,180.11 L382.10,180.27 L382.60,180.43 L383.10,180.67 L383.60,180.62 L384.10,180.62 L384.60,181.14 L385.10,181.34 L385.60,181.38 L386.10,181.30 L386.60,181.31 L387.10,181.85 L387.60,181.77 L388.10,181.65 L388.60,181.54 L389.10,181.73 L389.60,182.06 L390.10,181.89 L390.60,182.08 L391.10,182.44 L391.60,182.56 L392.10,182.74 L392.60,182.53 L393.10,183.16 L393.60,183.13 L394.10,183.25 L394.60,183.15 L395.10,183.22 L395.60,183.23 L396.10,183.22 L396.60,183.13 L397.10,183.01 L397.60,183.24 L398.10,183.30 L398.60,183.51 L399.10,183.31 L399.60,183.18 L400.10,183.11 L400.60,183.03 L401.10,183.21 L401.60,183.44 L402.10,183.70 L402.60,183.74 L403.10,183.83 L403.60,183.79 L404.10,183.74 L404.60,183.73 L405.10,183.55 L405.60,183.89 L406.10,183.96 L406.60,184.13 L407.10,183.85 L407.60,183.85 L408.10,183.80 L408.60,184.14 L409.10,184.17 L409.60,184.23 L410.10,184.34 L410.60,184.52 L411.10,184.63 L411.60,184.74 L412.10,184.68 L412.60,184.80 L413.10,184.74 L413.60,184.75 L414.10,184.80 L414.60,184.82 L415.10,185.19 L415.60,185.51 L416.10,185.54 L416.60,185.60 L417.10,185.44 L417.60,185.56 L418.10,185.50 L418.60,185.58 L419.10,185.90 L419.60,185.84 L420.10,185.65 L420.60,185.51 L421.10,185.44 L421.60,185.58 L422.10,184.97 L422.60,185.18 L423.10,185.36 L423.60,185.92 L424.10,185.92 L424.60,186.05 L425.10,185.91 L425.60,185.89 L426.10,185.52 L426.60,185.45 L427.10,185.43 L427.60,185.55 L428.10,185.37 L428.60,185.23 L429.10,185.09 L429.60,185.10 L430.10,185.05 L430.60,184.95 L431.10,184.79 L431.60,184.53 L432.10,184.78 L432.60,184.75 L433.10,184.91 L433.60,184.72 L434.10,185.02 L434.60,184.80 L435.10,184.66 L435.60,184.58 L436.10,184.89 L436.60,184.84 L437.10,184.66 L437.60,184.69 L438.10,184.96 L438.60,185.19 L439.10,184.97 L439.60,184.87 L440.10,184.85 L440.60,185.07 L441.10,184.84 L441.60,184.85 L442.10,184.71 L442.60,184.74 L443.10,184.77 L443.60,184.81 L444.10,184.93 L444.60,184.97 L445.10,184.77 L445.60,184.83 L446.10,184.85 L446.60,185.11 L447.10,185.29 L447.60,185.07 L448.10,184.83 L448.60,184.72 L449.10,184.98 L449.60,185.52 L450.10,185.59 L450.60,185.41 L451.10,185.23 L451.60,185.02 L452.10,184.93 L452.60,185.20 L453.10,185.38 L453.60,185.71 L454.10,185.41 L454.60,185.63 L455.10,185.56 L455.60,185.66 L456.10,185.23 L456.60,184.98 L457.10,185.01 L457.60,185.38 L458.10,185.65 L458.60,185.47 L459.10,185.27 L459.60,185.08 L460.10,185.27 L460.60,185.34 L461.10,185.51 L461.60,185.33 L462.10,185.39 L462.60,185.38 L463.10,185.44 L463.60,185.11 L464.10,185.11 L464.60,185.33 L465.10,185.43 L465.60,185.35 L466.10,185.18 L466.60,185.41 L467.10,185.53 L467.60,185.18 L468.10,185.13 L468.60,184.86 L469.10,184.98 L469.60,184.98 L470.10,185.08 L470.60,185.27 L471.10,185.55 L471.60,185.61 L472.10,185.49 L472.60,184.87 L473.10,184.58 L473.60,184.24 L474.10,184.13 L474.60,183.93 L475.10,183.80 L475.60,183.65 L476.10,183.46 L476.60,183.18 L477.10,182.84 L477.60,182.76 L478.10,182.65 L478.60,182.61 L479.10,182.36 L479.60,181.99 L480.10,181.59 L480.60,180.97 L481.10,180.73 L481.60,180.25 L482.10,179.76 L482.60,178.89 L483.10,178.12 L483.60,177.23 L484.10,176.36 L484.60,175.38 L485.10,174.35 L485.60,173.12 L486.10,171.76 L486.60,170.22 L487.10,168.60 L487.60,166.76 L488.10,164.83 L488.60,162.75 L489.10,160.49 L489.60,158.17 L490.10,155.61 L490.60,153.00 L491.10,150.12 L491.60,147.23 L492.10,144.13 L492.60,141.02 L493.10,137.84 L493.60,134.67 L494.10,131.46 L494.60,128.29 L495.10,125.12 L495.60,122.11 L496.10,119.19 L496.60,116.51 L497.10,113.97 L497.60,111.79 L498.10,109.89 L498.60,108.41 L499.10,107.15 L499.60,106.24 L500.10,105.62 L500.60,106.40 L501.10,107.81 L501.60,110.01 L502.10,112.97 L502.60,116.63 L503.10,120.77 L503.60,125.25 L504.10,129.95 L504.60,134.77 L505.10,139.58 L505.60,144.25 L506.10,148.75 L506.60,153.03 L507.10,157.06 L507.60,160.81 L508.10,164.24 L508.60,167.34 L509.10,170.10 L509.60,172.53 L510.10,174.62 L510.60,176.38 L511.10,177.94 L511.60,179.28 L512.10,180.49 L512.60,181.47 L513.10,182.27 L513.60,182.92 L514.10,183.50 L514.60,184.09 L515.10,184.53 L515.60,184.94 L516.10,185.21 L516.60,185.44 L517.10,185.62 L517.60,186.05 L518.10,186.28 L518.60,186.58 L519.10,186.69 L519.60,187.09 L520.10,187.00 L520.60,187.21 L521.10,187.18 L521.60,187.37 L522.10,187.23 L522.60,187.40 L523.10,187.55 L523.60,187.67 L524.10,187.86 L524.60,187.87 L525.10,187.85 L525.60,187.88 L526.10,188.15 L526.60,188.51 L527.10,188.34 L527.60,188.46 L528.10,188.45 L528.60,188.89 L529.10,188.64 L529.60,188.66 L530.10,188.43 L530.60,188.43 L531.10,188.35 L531.60,188.59 L532.10,188.79 L532.60,188.82 L533.10,188.83 L533.60,189.07 L534.10,189.34 L534.60,189.14 L535.10,189.01 L535.60,189.04 L536.10,189.08 L536.60,188.99 L537.10,188.97 L537.60,189.30 L538.10,189.25 L538.60,188.73 L539.10,188.28 L539.60,188.30 L540.10,188.66 L540.60,188.97 L541.10,189.10 L541.60,189.02 L542.10,188.96 L542.60,188.85 L543.10,188.96 L543.60,188.86 L544.10,189.41 L544.60,189.55 L545.10,189.54 L545.60,189.04 L546.10,188.88 L546.60,189.02" fill="none" stroke="#FF0000" stroke-width="1.5" stroke-linejoin="round"/>
<line x1="134.2" y1="159.79999999999998" x2="134.2" y2="204" stroke="#999" stroke-width="0.8"/>
<circle cx="134.2" cy="157.6" r="1.2" fill="#222"/>
<line x1="209.1" y1="158.0" x2="209.1" y2="204" stroke="#999" stroke-width="0.8"/>
<circle cx="209.1" cy="155.8" r="1.2" fill="#222"/>
<line x1="153" y1="26.5" x2="175.5" y2="26.5" stroke="#000000" stroke-width="1.65"/>
<text transform="translate(177.5,29.7) scale(1,1.1)" font-size="9.4">Control</text>
<line x1="153" y1="38.2" x2="175.5" y2="38.2" stroke="#FF8000" stroke-width="1.65"/>
<text transform="translate(177.5,41.400000000000006) scale(1,1.1)" font-size="9.4">PEACI/IPA</text>
<line x1="153" y1="49.9" x2="175.5" y2="49.9" stroke="#FF0000" stroke-width="1.65"/>
<text transform="translate(177.5,53.1) scale(1,1.1)" font-size="9.4">PEACI/DMSO+IPA</text>
<line x1="315.0" y1="25.1" x2="337.5" y2="25.1" stroke="#000000" stroke-width="1.65"/>
<text transform="translate(339.6,28.3) scale(1,1.1)" font-size="9.4">Control</text>
<line x1="315.0" y1="36.8" x2="337.5" y2="36.8" stroke="#FF8000" stroke-width="1.65"/>
<text transform="translate(339.6,40.0) scale(1,1.1)" font-size="9.4">PEACI/IPA</text>
<line x1="315.0" y1="48.5" x2="337.5" y2="48.5" stroke="#FF0000" stroke-width="1.65"/>
<text transform="translate(339.6,51.7) scale(1,1.1)" font-size="9.4">PEACI/DMSO+IPA</text>
<text transform="translate(5.8,18.9) scale(1,1.05)" font-size="20.5">a</text>
<text x="291" y="18.8" font-size="21">b</text>
<text transform="translate(32.3,33.8) scale(1,1.1)" font-size="10">Pb 4f</text>
<circle cx="33.4" cy="44.2" r="1.15" fill="#151515"/><text transform="translate(38.2,49.9) scale(1,1.1)" font-size="10">Pb<tspan font-size="7.4" dy="-4.6" dx="0.2">0</tspan></text>
<text transform="translate(111.8,92.0) scale(1,1.1)" font-size="9.7">Pb 4f<tspan font-size="6.9" dy="3.1">5/2</tspan></text>
<text transform="translate(190.6,76.8) scale(1,1.1)" font-size="9.7">Pb 4f<tspan font-size="6.9" dy="3.1">7/2</tspan></text>
<text transform="translate(541.3,30.0) scale(1,1.1)" font-size="9.8" text-anchor="end">I 3d</text>
<text transform="translate(367.8,83.5) scale(1,1.1)" font-size="9.6">I 3d<tspan font-size="6.8" dy="3.1">3/2</tspan></text>
<text transform="translate(502.8,56.6) scale(1,1.1)" font-size="9.6">I 3d<tspan font-size="6.8" dy="3.1">5/2</tspan></text>
<text transform="translate(18.2,140.4) rotate(-90)" font-size="9.8">Intensity (a.u.)</text>
<text transform="translate(144.5,230.7) scale(1,1.1)" font-size="9.9" text-anchor="middle">Binding Energy (eV)</text>
<text transform="translate(302.8,140.4) rotate(-90)" font-size="9.8">Intensity (a.u.)</text>
<text transform="translate(429.1,230.7) scale(1,1.1)" font-size="9.9" text-anchor="middle">Binding Energy (eV)</text>
</svg></body></html>
